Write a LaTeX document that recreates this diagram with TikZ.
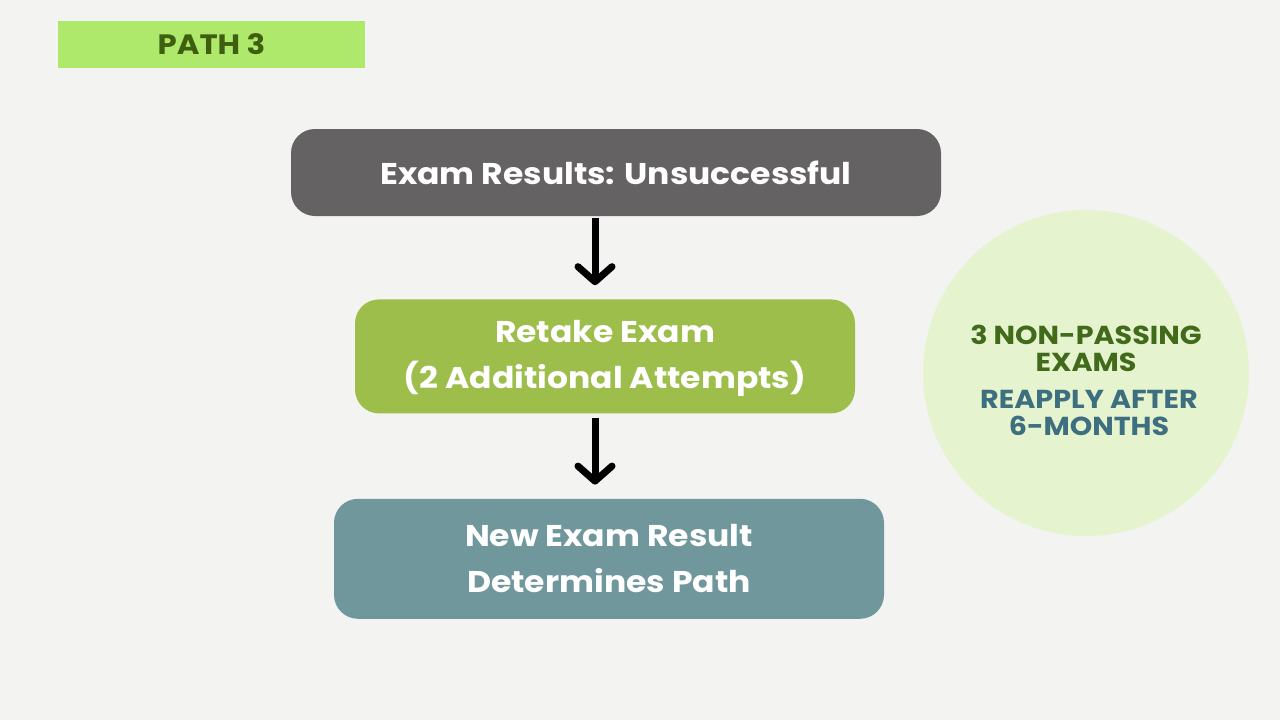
\documentclass[tikz,border=0pt]{standalone}
\usepackage{fontspec}
\setmainfont{Poppins}[FakeStretch=1.1]
\usetikzlibrary{positioning,arrows.meta}
\definecolor{bgcol}{HTML}{F3F3F1}
\definecolor{tagfill}{HTML}{AFE96B}
\definecolor{tagtext}{HTML}{3E5F10}
\definecolor{greybox}{HTML}{646262}
\definecolor{greenbox}{HTML}{9DBE4B}
\definecolor{tealbox}{HTML}{6F979C}
\definecolor{circfill}{HTML}{E5F4CE}
\definecolor{circgreen}{HTML}{416A1B}
\definecolor{circblue}{HTML}{3D6F80}
\tikzstyle{tag} = [fill=tagfill, rectangle, minimum width=307pt, minimum height=47pt, text=tagtext, font=\fontsize{28}{30}\selectfont\bfseries]
\tikzstyle{flowbox} = [rectangle, rounded corners=24pt, text=white, align=center, font=\fontsize{30}{46}\selectfont\bfseries]
\tikzstyle{note} = [align=center, font=\fontsize{26}{27}\selectfont\bfseries]
\tikzstyle{bigarrow} = [draw=black, line width=7pt, -{Straight Barb[length=15pt, width=34pt, round]}]

\begin{document}
\begin{tikzpicture}[x=1pt, y=-1pt]
    % Background
    \fill [bgcol] (0,0) rectangle (1280,720);
    \node [tag] (path) at (211.5,44.5) {PATH 3};
    % Flow
    \node [flowbox, fill=greybox, minimum width=650pt, minimum height=87pt] (result) at (616,172.5) {Exam Results: Unsuccessful};
    \node [flowbox, fill=greenbox, minimum width=500pt, minimum height=114pt, below=83pt of result, xshift=-11pt, text depth=4pt] (retake) {Retake Exam\\(2 Additional Attempts)};
    \node [flowbox, fill=tealbox, minimum width=550pt, minimum height=120pt, below=85pt of retake, xshift=4pt] (newresult) {New Exam Result\\Determines Path};
    % Side note
    \node [circle, fill=circfill, minimum size=326pt] (limit) at (1086,373) {};
    \node [note, text=circgreen] (failcount) at (1086,348) {3 NON-PASSING\\EXAMS};
    \node [note, text=circblue] (reapply) at (1089,413) {REAPPLY AFTER\\6-MONTHS};
    % Connections
    \draw [bigarrow, shorten <=2pt, shorten >=14pt] ([xshift=-21pt]result.south) -- ([xshift=-10pt]retake.north);
    \draw [bigarrow, shorten <=4pt, shorten >=14pt] ([xshift=-10pt]retake.south) -- ([xshift=-14pt]newresult.north);
\end{tikzpicture}
\end{document}
